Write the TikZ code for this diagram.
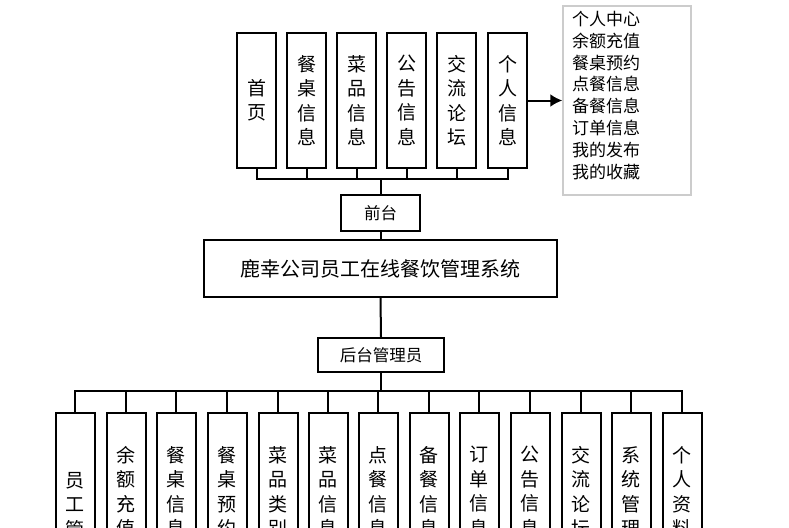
\documentclass[tikz,border=0pt]{standalone}
\usepackage{fontspec}
\setmainfont{Noto Sans CJK SC}
\usetikzlibrary{arrows.meta}
\begin{document}
\begin{tikzpicture}[x=1pt,y=-1pt,
  vb/.style={draw,line width=2pt,minimum width=39pt,inner sep=0pt},
  hb/.style={draw,line width=2pt,inner sep=0pt,font=\fontsize{16.5}{18}\selectfont},
  vt/.style={align=center,font=\fontsize{19}{24.5}\selectfont,inner sep=0pt},
  ln/.style={line width=2pt}]
\useasboundingbox (0,0) rectangle (789,527);
\clip (0,0) rectangle (789,527);
% top boxes
\foreach \i/\x/\t in {1/256.5/首\\页,2/306.5/餐\\桌\\信\\息,3/356.5/菜\\品\\信\\息,4/406.5/公\\告\\信\\息,5/456.5/交\\流\\论\\坛,6/507.5/个\\人\\信\\息}{
  \node[vb,minimum height=135pt] (t\i) at (\x,100.5) {};
  \node[vt] at (\x,100.5) {\t};
}
\node[hb,minimum width=79pt,minimum height=36pt] (ft) at (380.5,213) {前台};
\node[hb,minimum width=353pt,minimum height=57pt,font=\fontsize{20}{22}\selectfont] (sys) at (380.5,268.5) {鹿幸公司员工在线餐饮管理系统};
\node[hb,minimum width=126pt,minimum height=34pt] (ad) at (381,355) {后台管理员};
\coordinate (tb) at (380.5,179);
\foreach \i in {1,...,6} \draw[ln] (t\i.south) |- (tb);
\draw[ln] (tb) -- (ft.north);
\draw[ln] (ft.south) -- (sys.north);
\draw[ln] (sys.south) -- (ad.north);
% info box
\node[draw=gray!40,line width=1.5pt,minimum width=128pt,minimum height=189pt,inner sep=0pt] (info) at (627,100.5) {};
\node[align=left,font=\fontsize{17}{21.8}\selectfont,inner sep=0pt,anchor=north west] at (572,11) {个人中心\\余额充值\\餐桌预约\\点餐信息\\备餐信息\\订单信息\\我的发布\\我的收藏};
\draw[ln,-{Latex[length=12pt,width=13pt]}] (t6.east |- info.west) -- (info.west);
% bottom
\coordinate (bb) at (381,391);
\draw[ln] (ad.south) -- (bb);
\foreach \i/\x/\t/\y in {1/75/员\\工\\管\\理/483,2/126/余\\额\\充\\值\\管\\理/457,3/176/餐\\桌\\信\\息\\管\\理/457,4/227/餐\\桌\\预\\约\\管\\理/457,5/278/菜\\品\\类\\别\\管\\理/457,6/328/菜\\品\\信\\息\\管\\理/457,7/378/点\\餐\\信\\息\\管\\理/457,8/429/备\\餐\\信\\息\\管\\理/457,9/479/订\\单\\信\\息\\管\\理/457,10/530/公\\告\\信\\息\\管\\理/457,11/581/交\\流\\论\\坛\\管\\理/457,12/631/系\\统\\管\\理/457,13/682/个\\人\\资\\料/457}{
  \node[vb,minimum height=140pt,anchor=north] (b\i) at (\x,412) {};
  \node[vt,anchor=north] at (\x,\y-11) {\t};
  \draw[ln] (b\i.north) |- (bb);
}
\end{tikzpicture}
\end{document}
